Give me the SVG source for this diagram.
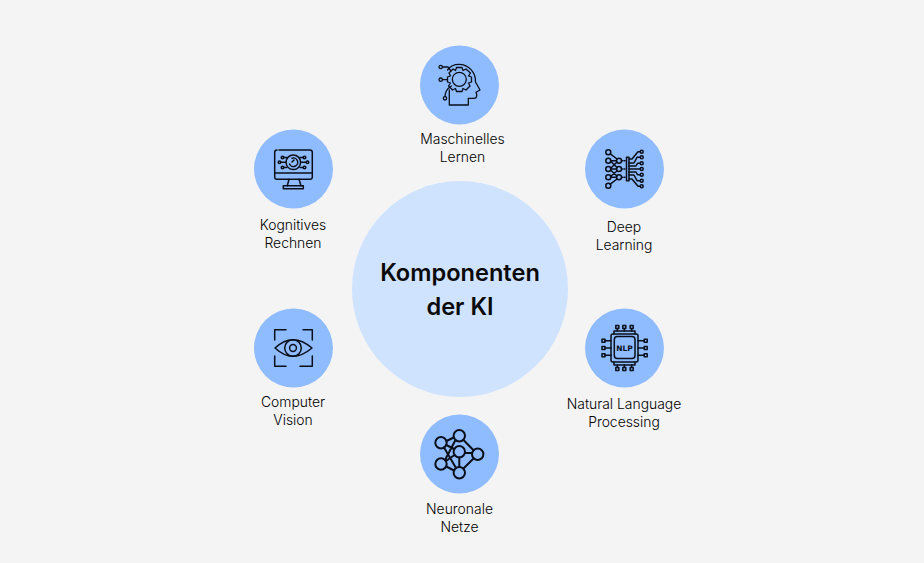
<svg xmlns="http://www.w3.org/2000/svg" width="924" height="563" viewBox="0 0 924 563">
<style>
.bg{fill:#f4f4f4}
.c{fill:#8fbbff}
.i{fill:none;stroke:#0a0f1a;stroke-width:1.5;stroke-linecap:round;stroke-linejoin:round}
.l{font-family:"Inter","Liberation Sans",sans-serif;font-size:13.9px;font-weight:300;fill:#000;text-anchor:middle}
.h{font-family:"Inter","Liberation Sans",sans-serif;font-size:23.6px;font-weight:600;fill:#0a0a0a;text-anchor:middle}
</style>
<rect class="bg" width="924" height="563"/>
<g id="center"><circle cx="460" cy="289" r="108" fill="#cfe3ff"/><text class="h" x="460" y="281">Komponenten</text><text class="h" x="460" y="315">der KI</text></g>
<g id="connectors"/>
<g id="ml"><circle class="c" cx="459.500" cy="85" r="39.500"/>
<g class="i" style="stroke-width:1.300">
<path d="M449.300 90V105H468.300V98.300H474Q477 98.300 476.700 94.300L476 92.300L480 90L475.500 82C476 72 468 64.300 459 64.300C454 64.300 450 66.500 447.500 70"/>
<circle cx="459.300" cy="79.300" r="7"/>
<path d="M456.500 67.500H462L463 70.500L466 69L470.500 73L468.500 76L471.500 77V82L468.500 83L470 86L466 90L463 88.500L462 91.500H456.500L455.500 88.500L452.500 90L448.500 86L450.500 83L447.500 82V77L450.500 76L449 73L453 69L455.500 70.500Z"/>
<circle cx="440.700" cy="67" r="1.700"/><path d="M442.500 67H448L451 71"/>
<circle cx="440.700" cy="79.700" r="1.700"/><path d="M442.500 79.700H447.500"/>
<circle cx="445" cy="98.300" r="1.700"/><path d="M445 96.500C445 91 448 88 451.500 86"/>
</g></g>
<g id="dl"><circle class="c" cx="624.500" cy="169" r="39.500"/>
<g class="i">
<circle cx="608.300" cy="152.300" r="2.500"/><circle cx="608.300" cy="160.700" r="2.500"/><circle cx="608.300" cy="169" r="2.500"/><circle cx="608.300" cy="177.300" r="2.500"/><circle cx="608.300" cy="185.700" r="2.500"/>
<circle cx="619" cy="160.700" r="2.500"/><circle cx="619" cy="169" r="2.500"/><circle cx="619" cy="177.300" r="2.500"/>
<path d="M610.300 153.800L617 159M611 160.700H616.500M611 161.500L617 167.500M611 168L617 162M611 169H616.500M611 170.500L617 176M611 176L617 171M611 177.300H616.500M610.300 184.200L617 179"/>
<path d="M621.500 160.700H625M621.500 169H625M621.500 177.300H625" stroke-dasharray="1 1.500"/>
<rect x="626.500" y="157.300" width="2.500" height="23.400"/>
<path d="M629 159H632L638 151.700H640M629 163H634L637 157.300H640M629 166H636L637.500 163.300H640M629 169H640M629 172H636L637.500 174.700H640M629 175H634L637 180.700H640M629 179H632L638 186.300H640"/>
<circle cx="641.700" cy="151.700" r="1.500"/><circle cx="641.700" cy="157.300" r="1.500"/><circle cx="641.700" cy="163.300" r="1.500"/><circle cx="641.700" cy="169" r="1.500"/><circle cx="641.700" cy="174.700" r="1.500"/><circle cx="641.700" cy="180.700" r="1.500"/><circle cx="641.700" cy="186.300" r="1.500"/>
</g></g>
<g id="nlp"><circle class="c" cx="624.500" cy="348" r="39.500"/>
<g class="i">
<rect x="611" y="334" width="27" height="28" rx="2"/>
<rect x="614.300" y="336.500" width="20.700" height="22" rx="3"/>
<path d="M614 334V331H635V334M614 362V365H635V362"/>
<path d="M617.300 331V328.500M624.300 331V328.500M631.700 331V328.500M617.300 365V367.500M624.300 365V367.500M631.700 365V367.500"/>
<rect x="615.800" y="325.500" width="3" height="3"/><rect x="622.800" y="325.500" width="3" height="3"/><rect x="630.200" y="325.500" width="3" height="3"/>
<rect x="615.800" y="367.500" width="3" height="3"/><rect x="622.800" y="367.500" width="3" height="3"/><rect x="630.200" y="367.500" width="3" height="3"/>
<path d="M605 340.700H611M605 348H611M605 355.300H611M638 340.700H644.200M638 348H644.200M638 355.300H644.200"/>
<rect x="602" y="339.200" width="3" height="3"/><rect x="602" y="346.500" width="3" height="3"/><rect x="602" y="353.800" width="3" height="3"/>
<rect x="644.200" y="339.200" width="3" height="3"/><rect x="644.200" y="346.500" width="3" height="3"/><rect x="644.200" y="353.800" width="3" height="3"/>
</g>
<text x="624.500" y="351" font-family="'DejaVu Sans',sans-serif" font-size="7.500" font-weight="700" text-anchor="middle" fill="#0a0f1a">NLP</text></g>
<g id="nn"><circle class="c" cx="459.500" cy="454" r="39.500"/>
<g class="i" style="stroke-width:2">
<circle cx="441" cy="442.700" r="5.700"/><circle cx="441" cy="464" r="5.700"/><circle cx="459.300" cy="435.700" r="5.700"/><circle cx="459.300" cy="451.700" r="5.700"/><circle cx="459.300" cy="472.700" r="5.700"/><circle cx="477.700" cy="454.300" r="5.700"/>
<path d="M446.500 441L453.700 437.500M444 447.500L456 468M445 460L455.500 440M446.300 466.500L454 470.500M446.300 445L454.300 449M446 461L454.500 455M459.300 457.400V467M463.500 440L473.500 450.300M465 453H472M473.500 458.500L463.500 468.500"/>
</g></g>
<g id="cv"><circle class="c" cx="293.500" cy="348" r="39.500"/>
<g class="i">
<path d="M286 329.700H274.700V340M274.700 356V366.300H286M300 366.300H312.300V356M312.300 340V329.700H303"/>
<path d="M275 348C281 342.500 287 339.700 293 339.700C299 339.700 305.500 342.500 312 348C305.500 353.500 299 356.300 293 356.300C287 356.300 281 353.500 275 348Z"/>
<circle cx="293" cy="348" r="8.300"/>
<circle cx="293" cy="348" r="3.400"/>
</g></g>
<g id="cog"><circle class="c" cx="293.500" cy="169" r="39.500"/>
<g class="i">
<path d="M279 150H310Q312.300 150 312.300 152.500V177Q312.300 179.300 310 179.300H277Q274.700 179.300 274.700 177V152.500Q274.700 150 277 150"/>
<path d="M275 173H312"/>
<path d="M289 179.300L287.300 185.700M299 179.300L301 185.700"/>
<rect x="283.300" y="185.700" width="20" height="3"/>
<circle cx="293.300" cy="162.300" r="7.300"/>
<path d="M289.500 164A4.300 4.300 0 1 0 292 158.200M292 162L294 160"/>
<path d="M283.500 157.500H286.500M281 162.300H286M283.500 167.500H286.500M303 157.500H300M306 162.300H300.600M303 167.500H300"/>
<circle cx="282.500" cy="157.500" r="1.300"/><circle cx="279.500" cy="162.300" r="1.300"/><circle cx="282.500" cy="167.500" r="1.300"/>
<circle cx="304.500" cy="157.500" r="1.300"/><circle cx="307.500" cy="162.300" r="1.300"/><circle cx="304.500" cy="167.500" r="1.300"/>
</g></g>
<text class="l" x="462.500" y="144">Maschinelles</text><text class="l" x="462.500" y="162">Lernen</text>
<text class="l" x="624" y="232">Deep</text><text class="l" x="624" y="250">Learning</text>
<text class="l" x="624" y="409">Natural Language</text><text class="l" x="624" y="427">Processing</text>
<text class="l" x="459.500" y="514">Neuronale</text><text class="l" x="459.500" y="532">Netze</text>
<text class="l" x="293" y="407">Computer</text><text class="l" x="293" y="425">Vision</text>
<text class="l" x="293" y="230">Kognitives</text><text class="l" x="293" y="248">Rechnen</text>
</svg>
